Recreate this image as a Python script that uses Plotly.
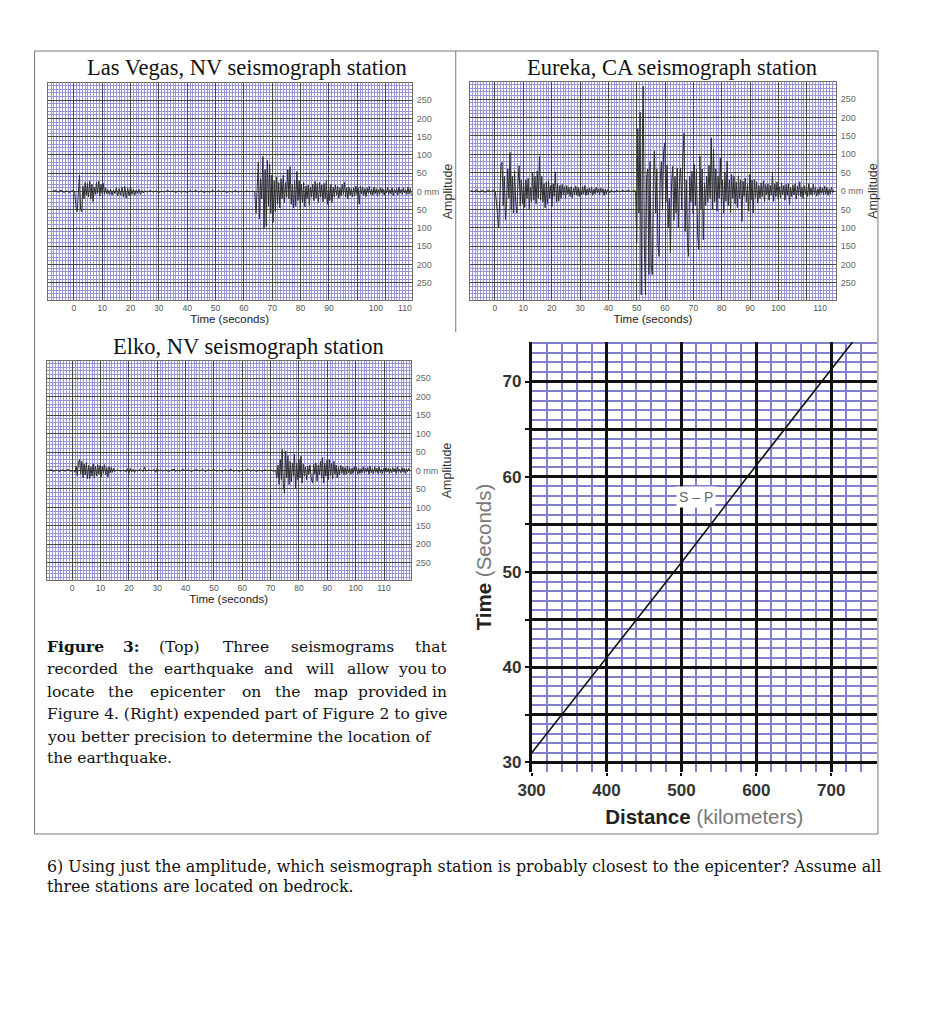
import plotly.graph_objects as go

W, H = 939, 1024
# reference-pixel -> paper coordinates (compensates the page offset seen in the render)
X_OFF, X_SC, Y_OFF = 20.4, 0.987, 8.0
def px(x): return ((x - X_OFF) / X_SC) / W
def py(y): return 1 - (y - Y_OFF) / H

# ---------------- data ----------------
# Las Vegas, NV seismogram (time s, amplitude mm)
lv_time = [-7.5,-6.5,-5.5,-4.5,-3.5,-2.5,-1.5,-0.5,0.3,
           0.8,1.2,1.6,2.0,2.4,2.8,3.2,3.6,4.0,4.4,4.8,5.2,5.6,6.0,6.4,6.8,7.2,7.6,8.0,8.4,8.8,9.2,9.6,10.0,10.4,10.8,11.2,11.6,12.0,
           12.5,13.0,13.5,14.0,14.5,15.0,15.5,16.0,16.5,17.0,17.5,18.0,18.5,19.0,19.5,20.0,20.5,21.0,21.5,22.0,22.5,23.0,23.5,24.0,24.5,25.0,26,27,28,
           29,30,31,32,33,34,35,36,37,38,39,40,41,42,43,44,45,46,47,48,49,50,51,52,53,54,55,56,57,58,59,60,61,62,63,63.8,
           64.3,64.7,65.1,65.5,65.9,66.3,66.7,67.1,67.5,67.9,68.3,68.7,69.1,69.5,69.9,70.3,70.7,71.1,71.5,71.9,72.3,72.7,73.1,73.5,73.9,74.3,74.7,75.1,75.5,75.9,
           76.3,76.7,77.1,77.5,77.9,78.3,78.7,79.1,79.5,79.9,80.3,80.7,81.1,81.5,81.9,82.3,82.7,83.1,83.5,83.9,84.3,84.7,85.1,85.5,85.9,86.3,86.7,87.1,87.5,87.9,
           88.3,88.7,89.1,89.5,89.9,90.3,90.7,91.1,91.5,91.9,92.3,92.7,93.1,93.5,93.9,94.3,94.7,95.1,95.5,95.9,96.3,96.7,97.1,97.5,97.9,98.3,98.7,99.1,99.5,99.9,
           100.3,100.7,101.1,101.5,101.9,102.3,102.7,103.1,103.5,103.9,104.3,104.7,105.1,105.5,105.9,106.3,106.7,107.1,107.5,107.9,108.3,108.7,109.1,109.5,109.9,
           110.3,110.7,111.1,111.5,111.9,112.3,112.7,113.1,113.5,113.9,114.3,114.7,115.1,115.5,115.9,116.3,116.7,117.1,117.5,117.9,118.3,118.7,119.1]
lv_amp = [0,3,-2,4,-3,2,-3,3,0,
          -45,-55,10,45,-50,-55,15,-20,25,-10,22,-15,28,-20,20,-28,12,-8,25,-5,28,-12,20,-5,22,-8,10,-6,5,
          -8,6,-10,4,-6,10,-12,8,-10,12,-15,14,-18,10,-12,14,-8,6,-10,4,-5,6,-8,3,-4,2,-2,3,-2,
          2,-3,1,-2,3,-1,2,-3,2,-2,1,-3,2,-1,3,-2,2,-3,1,-2,3,-2,2,-1,2,-3,1,-2,3,-2,1,-2,2,-1,1,0,
          -60,25,80,-75,35,-20,95,-100,60,-95,85,-40,75,-60,45,-85,30,-55,40,-35,25,-45,35,-20,45,-30,25,-15,60,-20,
          68,-35,20,-45,30,-40,55,-25,30,-48,20,-30,25,-42,15,-20,18,-38,12,-15,20,-25,28,-18,22,-30,25,-15,18,-28,
          22,-20,30,-35,15,-25,20,-30,12,-15,18,-10,14,-18,10,-12,20,-8,25,-15,10,-20,12,-10,8,-15,10,-12,15,-8,
          10,-35,14,-6,12,-10,8,-14,10,-5,14,-8,6,-10,12,-6,8,-12,5,-8,10,-5,7,-10,6,
          -4,12,-8,5,-6,10,-12,6,-4,8,-10,12,-5,6,-8,10,-4,5,-8,12,-6,8,-10]

# Eureka, CA seismogram
eu_time = [-8.5,-7.5,-6.5,-5.5,-4.5,-3.5,-2.5,-1.5,-0.5,0.1,
           0.5,0.9,1.3,1.7,2.1,2.5,2.9,3.3,3.7,4.1,4.5,4.9,5.3,5.7,6.1,6.5,6.9,7.3,7.7,8.1,8.5,8.9,9.3,9.7,10.1,10.5,10.9,11.3,11.7,12.1,
           12.5,12.9,13.3,13.7,14.1,14.5,14.9,15.3,15.7,16.1,16.5,16.9,17.3,17.7,18.1,18.5,18.9,19.3,19.7,20.1,20.5,20.9,21.3,21.7,22.1,22.5,22.9,23.3,23.7,24.1,
           24.5,24.9,25.3,25.7,26.1,26.5,26.9,27.3,27.7,28.1,28.5,28.9,29.3,29.7,30.1,30.5,30.9,31.3,31.7,32.1,32.5,32.9,33.3,33.7,34.1,34.5,34.9,35.3,35.7,36.1,
           36.5,36.9,37.3,37.7,38.1,38.5,38.9,39.3,39.7,40.5,41,42,43,44,45,46,47,48,49,49.6,
           50.0,50.4,50.8,51.2,51.6,52.0,52.3,52.7,53.1,53.5,53.9,54.3,54.7,55.1,55.5,55.9,56.3,56.7,57.1,57.5,57.9,58.3,58.7,59.1,59.5,59.9,
           60.3,60.7,61.1,61.5,61.9,62.3,62.7,63.1,63.5,63.9,64.3,64.7,65.1,65.5,65.9,66.3,66.7,67.1,67.5,67.9,68.3,68.7,69.1,69.5,69.9,
           70.3,70.7,71.1,71.5,71.9,72.3,72.7,73.1,73.5,73.9,74.3,74.7,75.1,75.5,75.9,76.3,76.7,77.1,77.5,77.9,78.3,78.7,79.1,79.5,79.9,
           80.3,80.7,81.1,81.5,81.9,82.3,82.7,83.1,83.5,83.9,84.3,84.7,85.1,85.5,85.9,86.3,86.7,87.1,87.5,87.9,88.3,88.7,89.1,89.5,89.9,
           90.3,90.7,91.1,91.5,91.9,92.3,92.7,93.1,93.5,93.9,94.3,94.7,95.1,95.5,95.9,96.3,96.7,97.1,97.5,97.9,98.3,98.7,99.1,99.5,99.9,
           100.3,100.7,101.1,101.5,101.9,102.3,102.7,103.1,103.5,103.9,104.3,104.7,105.1,105.5,105.9,106.3,106.7,107.1,107.5,107.9,108.3,108.7,109.1,109.5,109.9,
           110.3,110.7,111.1,111.5,111.9,112.3,112.7,113.1,113.5,113.9,114.3,114.7,115.1,115.5,115.9,116.3,116.7,117.1,117.5,117.9,118.3,118.7,119.1,119.5]
eu_amp = [2,-2,3,-3,2,-4,3,-2,2,0,
          -30,-80,-100,-20,70,78,-40,40,-78,-30,60,-20,105,-50,40,-60,55,-30,-60,20,68,-40,30,-35,22,-45,30,-20,35,-50,
          10,-30,50,-25,40,-35,55,-20,95,-25,40,-30,20,-46,25,-35,30,-20,15,-42,20,-15,52,-30,20,-28,15,-20,18,-10,
          12,-20,15,-8,10,-15,12,-18,8,-10,14,-12,10,-15,8,-10,12,-8,15,-12,6,-10,8,-6,10,-12,5,-8,10,-5,
          6,-10,8,-4,6,-12,5,-8,4,-5,3,-4,2,-3,2,-2,3,-2,1,0,
          -140,170,-60,215,-283,120,285,-150,-283,40,60,-228,80,-200,-228,40,108,-60,60,-150,-178,30,80,-50,108,131,
          -30,70,-100,-20,-169,20,67,-80,40,-60,63,-100,30,63,-50,100,158,-110,30,-140,-178,40,-30,54,-60,
          72,-40,60,-120,-160,95,-50,60,-133,22,-40,40,-30,70,-20,145,-50,113,-30,60,-55,40,-20,90,-35,
          30,-60,50,-28,81,-40,30,-60,45,-20,40,-35,25,-45,40,-20,30,-83,27,-15,35,-30,20,-55,45,
          -25,30,-60,31,-20,25,-33,15,-20,22,-15,28,-30,18,-10,20,-25,15,-12,49,-28,20,-15,25,-20,
          12,-18,22,-10,15,-25,18,-12,20,-37,10,-15,17,-10,20,-22,14,-12,25,-15,10,-20,15,-8,12,
          -15,20,-10,8,-12,18,-8,10,-14,6,-10,12,-6,8,-10,14,-8,10,-12,6,-8,10,-5,4]

# Elko, NV seismogram
el_time = [-8.5,-7.5,-6.5,-5.5,-4.5,-3.5,-2.5,-1.5,-0.5,0.5,
           1.0,1.4,1.8,2.2,2.6,3.0,3.4,3.8,4.2,4.6,5.0,5.4,5.8,6.2,6.6,7.0,7.4,7.8,8.2,8.6,9.0,9.4,9.8,10.2,10.6,11.0,11.4,11.8,12.2,12.6,
           13.0,13.4,13.8,14.2,14.6,15.0,16,17,18,19,19.5,20,20.5,21,21.5,22,22.5,23,24,25,25.5,26,27,28,29,29.5,30,30.5,31,
           32,33,34,35,36,36.5,37,38,39,40,41,42,43,44,45,46,47,48,49,50,51,52,53,54,55,56,57,58,59,60,61,62,63,64,65,66,67,68,69,70,71,71.8,
           72.2,72.6,73.0,73.4,73.8,74.1,74.5,74.9,75.3,75.7,76.1,76.5,76.9,77.3,77.7,78.1,78.4,78.8,79.2,79.6,80.0,80.4,80.7,81.1,81.5,81.9,
           82.3,82.7,83.1,83.5,83.9,84.3,84.8,85.2,85.6,86.0,86.4,86.8,87.2,87.6,88.0,88.3,88.7,89.1,89.5,89.9,90.3,90.7,91.1,91.5,91.9,
           92.3,92.7,93.1,93.5,93.9,94.3,94.7,95.1,95.5,95.9,96.3,96.7,97.1,97.5,97.9,98.3,98.7,99.1,99.5,99.9,
           100.3,100.7,101.1,101.5,101.9,102.3,102.7,103.1,103.5,103.9,104.3,104.7,105.1,105.5,105.9,106.3,106.7,107.1,107.5,107.9,108.3,108.7,109.1,109.5,109.9,
           110.3,110.7,111.1,111.5,111.9,112.3,112.7,113.1,113.5,113.9,114.3,114.7,115.1,115.5,115.9,116.3,116.7,117.1,117.5,117.9,118.3,118.7,119.2]
el_amp = [0,2,-2,1,-3,2,-2,3,-2,0,
          -5,12,-15,20,30,-10,25,-20,18,-12,22,-22,14,-22,10,-15,18,-20,12,-15,16,-10,14,-18,12,-8,16,-12,8,-18,
          10,-6,9,-5,6,-3,2,-2,1,-3,5,-8,6,-4,3,-6,2,-2,4,-3,9,-2,2,-1,3,-5,6,-2,2,
          -2,2,-3,1,4,-3,2,-2,3,-1,2,-3,1,2,-2,3,-3,2,-1,3,-2,1,-2,2,-1,3,-2,1,-3,2,-1,3,-2,2,-3,1,-2,2,-1,2,-2,0,
          -20,15,-38,30,-25,57,-40,-61,53,-20,40,-38,25,-30,20,-15,44,-47,20,-25,30,-20,39,-34,18,-15,
          10,-25,12,-10,15,-20,-34,18,-10,20,-29,15,-12,25,-20,35,-34,20,-15,28,-25,30,-15,20,-22,
          25,-10,15,-20,10,-12,14,-8,10,-12,8,-10,12,-6,8,-10,6,-8,10,-5,
          8,-10,6,-8,5,-6,10,-8,6,-4,8,-10,12,-6,5,-8,10,-5,6,-8,10,-6,4,-8,6,
          -5,8,-4,6,-8,5,-6,8,-4,6,-8,10,-5,4,-6,8,-4,6,-8,5,-3,6,-2]

# S-P travel time curve (distance km, S-P interval s)
sp_distance = [300, 400, 500, 600, 700, 730]
sp_time = [31.0, 41.0, 51.0, 61.2, 71.3, 74.3]

# tick labels
time_ticks = ["0","10","20","30","40","50","60","70","80","90","100","110"]
lv_tick_at = [0,10,20,30,40,50,60,70,80,90,106.6,116.8]
eu_tick_at = [0,10,20,30,40,50,60,70,80,90,100,114.7]
el_tick_at = [0,10,20,30,40,50,60,70,80,90,100,110]
amp_vals = [250,200,150,100,50,0,-50,-100,-150,-200,-250]
amp_text = ["250","200","150","100","50","0 mm","50","100","150","200","250"]
sp_dist_ticks = [300,400,500,600,700]
sp_time_vals = [30,35,40,45,50,55,60,65,70]
sp_time_text = ["30","","40","","50","","60","","70"]

# ---------------- figure ----------------
fig = go.Figure()
MINOR = "rgb(150,150,212)"
MAJOR = "rgb(70,70,70)"
SANS = "Liberation Sans"
SERIF_T = "Liberation Serif"
SERIF_C = "DejaVu Serif"

panels = [
    (1, 5, lv_time, lv_amp, (46, 411), (83, 300), 72.3, lv_tick_at, "Las Vegas, NV seismograph station", 246, 67),
    (2, 6, eu_time, eu_amp, (469, 836), (82, 300), 494.3, eu_tick_at, "Eureka, CA seismograph station", 672, 67),
    (3, 7, el_time, el_amp, (45, 410), (361, 580), 70.7, el_tick_at, "Elko, NV seismograph station", 247, 346),
]
PXU = 2.84  # reference pixels per second on the seismogram paper

annotations = []
for n, ln, t, a, dx, dy, zero, tat, title, tx, ty in panels:
    sfx = "" if n == 1 else str(n)
    rng = [(dx[0] - zero) / PXU, (dx[1] - zero) / PXU]
    fig.add_trace(go.Scatter(x=t, y=a, mode="lines", line=dict(color="#2e2e2e", width=1.0),
                             xaxis="x" + sfx, yaxis="y" + sfx, showlegend=False, hoverinfo="skip"))
    fig.add_trace(go.Scatter(x=[None], y=[None], mode="lines", xaxis="x" + str(ln), yaxis="y" + sfx,
                             showlegend=False, hoverinfo="skip"))
    fig.layout["xaxis" + sfx] = dict(
        domain=[px(dx[0]), px(dx[1])], anchor="y" + sfx, range=rng,
        tickmode="linear", tick0=0, dtick=10, showticklabels=False, ticks="",
        showgrid=True, gridcolor=MAJOR, gridwidth=1, zeroline=False,
        minor=dict(tickmode="linear", tick0=0, dtick=1, showgrid=True, gridcolor=MINOR, gridwidth=1, ticks=""),
        showline=True, mirror=True, linecolor="rgb(110,110,110)", linewidth=1)
    fig.layout["yaxis" + sfx] = dict(
        domain=[py(dy[1]), py(dy[0])], anchor="x" + sfx, range=[-297, 297], side="right",
        tickmode="array", tickvals=amp_vals, ticktext=amp_text, ticks="",
        tickfont=dict(family=SANS, size=9, color="#666"), ticklabelstandoff=2,
        showgrid=True, gridcolor=MAJOR, gridwidth=1, zeroline=False,
        minor=dict(tickmode="linear", tick0=0, dtick=10, showgrid=True, gridcolor=MINOR, gridwidth=1, ticks=""),
        showline=True, mirror=True, linecolor="rgb(110,110,110)", linewidth=1,
        title=dict(text="Amplitude", font=dict(family=SANS, size=12.5, color="#333"), standoff=5))
    fig.layout["xaxis" + str(ln)] = dict(
        overlaying="x" + sfx, anchor="y" + sfx, side="bottom", range=rng,
        tickmode="array", tickvals=tat, ticktext=time_ticks, ticks="",
        tickfont=dict(family=SANS, size=8.5, color="#555"), ticklabelstandoff=1,
        showgrid=False, zeroline=False, showline=False,
        title=dict(text="Time (seconds)", font=dict(family=SANS, size=11.5, color="#222"), standoff=3))
    annotations.append(dict(x=px(tx), y=py(ty), xref="paper", yref="paper", text=title, showarrow=False,
                            xanchor="center", yanchor="middle",
                            font=dict(family=SERIF_T, size=22.5, color="#111")))

# S-P chart
fig.add_trace(go.Scatter(x=sp_distance, y=sp_time, mode="lines", line=dict(color="#111", width=1.6),
                         xaxis="x4", yaxis="y4", showlegend=False, hoverinfo="skip"))
SPMINOR = "rgb(128,128,204)"
fig.layout["xaxis4"] = dict(
    domain=[px(531), px(877)], anchor="y4", range=[300, 761],
    tickmode="array", tickvals=sp_dist_ticks, ticks="outside", ticklen=3, tickwidth=2, tickcolor="#111",
    tickfont=dict(family=SANS, size=17, color="#333", weight="bold"),
    showgrid=True, gridcolor="#111", gridwidth=2.5, zeroline=False,
    minor=dict(tickmode="linear", tick0=300, dtick=20, showgrid=True, gridcolor=SPMINOR, gridwidth=1.5, ticks=""),
    showline=False,
    title=dict(text="<b><span style='color:#222'>Distance</span></b> (kilometers)",
               font=dict(family=SANS, size=20.5, color="#777"), standoff=10))
fig.layout["yaxis4"] = dict(
    domain=[py(772), py(342)], anchor="x4", range=[29, 74.15],
    tickmode="array", tickvals=sp_time_vals, ticktext=sp_time_text, ticks="outside", ticklen=4, tickwidth=2,
    tickcolor="#111",
    tickfont=dict(family=SANS, size=17, color="#333", weight="bold"),
    showgrid=True, gridcolor="#111", gridwidth=2.5, zeroline=False,
    minor=dict(tickmode="linear", tick0=30, dtick=1, showgrid=True, gridcolor=SPMINOR, gridwidth=1.5, ticks=""),
    showline=True, linecolor="#111", linewidth=2.5,
    title=dict(text="<b><span style='color:#222'>Time</span></b> (Seconds)",
               font=dict(family=SANS, size=20.5, color="#777"), standoff=6))
annotations.append(dict(x=519, y=57.9, xref="x4", yref="y4", text="S – P", showarrow=False,
                        bgcolor="white", borderpad=2,
                        font=dict(family=SANS, size=14, color="#666")))

# caption, justified word by word: first word flush left, last flush right, others centred
CAP = dict(family=SERIF_C, size=15.5, color="#111")
QUE = dict(family=SERIF_C, size=15.85, color="#111")
CAP_L, CAP_R = 43.3, 448.3
justified = [
    (646.7, ["<b>Figure</b>", "<b>3:</b>", "(Top)", "Three", "seismograms", "that"],
            [None, 130, 177.5, 245, 341.7, None]),
    (669.0, ["recorded", "the", "earthquake", "and", "will", "allow", "you", "to"],
            [None, 139.2, 207.5, 277.5, 319.2, 367, 412, None]),
    (691.7, ["locate", "the", "epicenter", "on", "the", "map", "provided", "in"],
            [None, 119.2, 186.7, 250, 286.7, 330, 392, None]),
]
for yline, words, centres in justified:
    last = len(words) - 1
    for i, (w, c) in enumerate(zip(words, centres)):
        if i == 0:
            xx, anc = CAP_L, "left"
        elif i == last:
            xx, anc = CAP_R, "right"
        else:
            xx, anc = c, "center"
        annotations.append(dict(x=px(xx), y=py(yline), xref="paper", yref="paper", text=w, showarrow=False,
                                xanchor=anc, yanchor="middle", font=CAP))
plain_lines = [
    (714.0, "Figure 4. (Right) expended part of Figure 2 to give", CAP),
    (736.7, "you better precision to determine the location of", CAP),
    (758.0, "the earthquake.", CAP),
    (866.0, "6) Using just the amplitude, which seismograph station is probably closest to the epicenter? Assume all", QUE),
    (886.0, "three stations are located on bedrock.", QUE),
]
for yline, txt, fnt in plain_lines:
    annotations.append(dict(x=px(CAP_L), y=py(yline), xref="paper", yref="paper", text=txt, showarrow=False,
                            xanchor="left", yanchor="middle", font=fnt))

shapes = [
    dict(type="rect", xref="paper", yref="paper", x0=px(33), x1=px(878), y0=py(834), y1=py(51),
         line=dict(color="rgb(120,120,120)", width=1)),
    dict(type="line", xref="paper", yref="paper", x0=px(455), x1=px(455), y0=py(332), y1=py(51),
         line=dict(color="rgb(120,120,120)", width=1)),
]

fig.update_layout(width=W, height=H, margin=dict(l=0, r=0, t=0, b=0),
                  paper_bgcolor="white", plot_bgcolor="white",
                  annotations=annotations, shapes=shapes, showlegend=False)
fig.write_html("out.html")
